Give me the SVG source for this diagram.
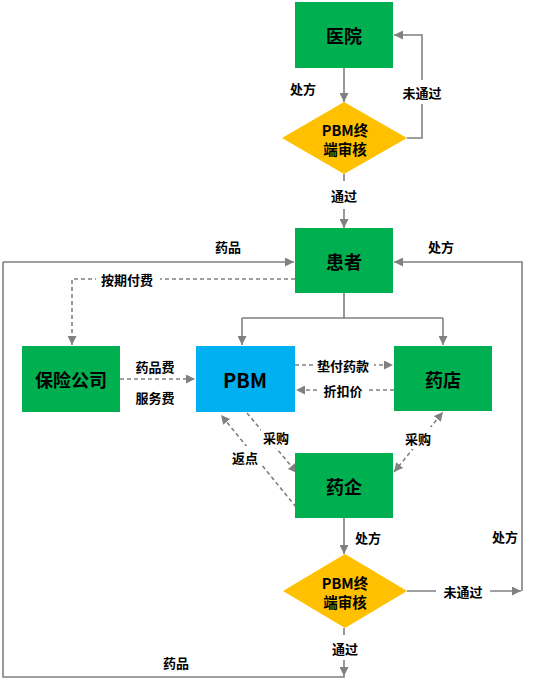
<svg xmlns="http://www.w3.org/2000/svg" width="541" height="687" viewBox="0 0 541 687">
<style>
.box{fill:#00B050}
.pbm{fill:#00B0F0}
.dia{fill:#FFC000}
.t{font-family:"Noto Sans CJK SC","Liberation Sans",sans-serif;font-weight:bold;fill:#000;text-anchor:middle;dominant-baseline:central}
.bt{font-size:18px}
.pt{font-size:20px}
.dt{font-size:14.5px}
.lt{font-size:13px}
.ln{fill:none;stroke:#808080;stroke-width:1.6}
.ds{fill:none;stroke:#808080;stroke-width:1.6;stroke-dasharray:4,3}
.bg{fill:#fff}
</style>
<defs>
<marker id="ah" viewBox="0 0 10 10" refX="10" refY="5" markerWidth="9" markerHeight="9" markerUnits="userSpaceOnUse" orient="auto-start-reverse">
<path d="M0,0 L10,5 L0,10 z" fill="#808080"/>
</marker>
</defs>
<g id="connectors">
<path class="ln" d="M344,68 V102" marker-end="url(#ah)"/>
<path class="ln" d="M407,138 H422 V35 H394" marker-end="url(#ah)"/>
<path class="ln" d="M344,174 V228" marker-end="url(#ah)"/>
<path class="ln" d="M3,262 H294" marker-end="url(#ah)"/>
<path class="ln" d="M344,676 V677 H3 V262"/>
<path class="ln" d="M522,591 V262 H394" marker-end="url(#ah)"/>
<path class="ds" d="M295,279 H72 V345" marker-end="url(#ah)"/>
<path class="ln" d="M344,293 V318 M242,318 H443"/>
<path class="ln" d="M242,318 V345" marker-end="url(#ah)"/>
<path class="ln" d="M443,318 V345" marker-end="url(#ah)"/>
<path class="ds" d="M120,379 H195" marker-end="url(#ah)"/>
<path class="ds" d="M295,365 H393" marker-end="url(#ah)"/>
<path class="ds" d="M394,390 H296" marker-end="url(#ah)"/>
<path class="ds" d="M247,413 L297,473" marker-end="url(#ah)"/>
<path class="ds" d="M296,507 L221,415" marker-end="url(#ah)"/>
<path class="ds" d="M394,472 L443,412" marker-start="url(#ah)" marker-end="url(#ah)"/>
<path class="ln" d="M344,518 V554" marker-end="url(#ah)"/>
<path class="ln" d="M407,591 H521" marker-end="url(#ah)"/>
<path class="ln" d="M344,628 V676" marker-end="url(#ah)"/>
</g>
<g id="labels">
<text class="t lt" x="303" y="88">处方</text>
<rect class="bg" x="400" y="80" width="44" height="24"/>
<text class="t lt" x="422" y="92">未通过</text>
<rect class="bg" x="324" y="181" width="40" height="28"/>
<text class="t lt" x="344" y="195">通过</text>
<text class="t lt" x="228" y="246">药品</text>
<text class="t lt" x="441" y="246">处方</text>
<rect class="bg" x="96" y="270" width="64" height="18"/>
<text class="t lt" x="127" y="279">按期付费</text>
<text class="t lt" x="155" y="366">药品费</text>
<text class="t lt" x="155" y="397">服务费</text>
<rect class="bg" x="313" y="356" width="61" height="18"/>
<text class="t lt" x="343" y="365">垫付药款</text>
<rect class="bg" x="318" y="381" width="50" height="18"/>
<text class="t lt" x="343" y="390">折扣价</text>
<rect class="bg" x="261" y="427" width="31" height="21"/>
<text class="t lt" x="276" y="437">采购</text>
<rect class="bg" x="230" y="446" width="31" height="22"/>
<text class="t lt" x="245" y="457">返点</text>
<rect class="bg" x="403" y="427" width="31" height="22"/>
<text class="t lt" x="418" y="438">采购</text>
<text class="t lt" x="368" y="537">处方</text>
<text class="t lt" x="505" y="536">处方</text>
<rect class="bg" x="436" y="581" width="54" height="20"/>
<text class="t lt" x="463" y="591">未通过</text>
<rect class="bg" x="325" y="635" width="40" height="25"/>
<text class="t lt" x="345" y="648">通过</text>
<text class="t lt" x="176" y="662">药品</text>
</g>
<g id="hospital">
<rect class="box" x="295" y="2" width="98" height="66"/>
<text class="t bt" x="344" y="35">医院</text>
</g>
<g id="review1">
<polygon class="dia" points="344,102 407,138 344,174 282,138"/>
<text class="t dt" x="345" y="129">PBM终</text>
<text class="t dt" x="345" y="148">端审核</text>
</g>
<g id="patient">
<rect class="box" x="295" y="228" width="98" height="65"/>
<text class="t bt" x="344" y="261">患者</text>
</g>
<g id="insurance">
<rect class="box" x="22" y="346" width="98" height="66"/>
<text class="t bt" x="71" y="379">保险公司</text>
</g>
<g id="pbm">
<rect class="pbm" x="196" y="346" width="99" height="66"/>
<text class="t pt" x="245" y="379">PBM</text>
</g>
<g id="pharmacy">
<rect class="box" x="394" y="346" width="98" height="65"/>
<text class="t bt" x="443" y="379">药店</text>
</g>
<g id="pharma">
<rect class="box" x="295" y="453" width="98" height="65"/>
<text class="t bt" x="344" y="486">药企</text>
</g>
<g id="review2">
<polygon class="dia" points="345,554 407,591 345,628 283,591"/>
<text class="t dt" x="345" y="582">PBM终</text>
<text class="t dt" x="345" y="601">端审核</text>
</g>
</svg>
